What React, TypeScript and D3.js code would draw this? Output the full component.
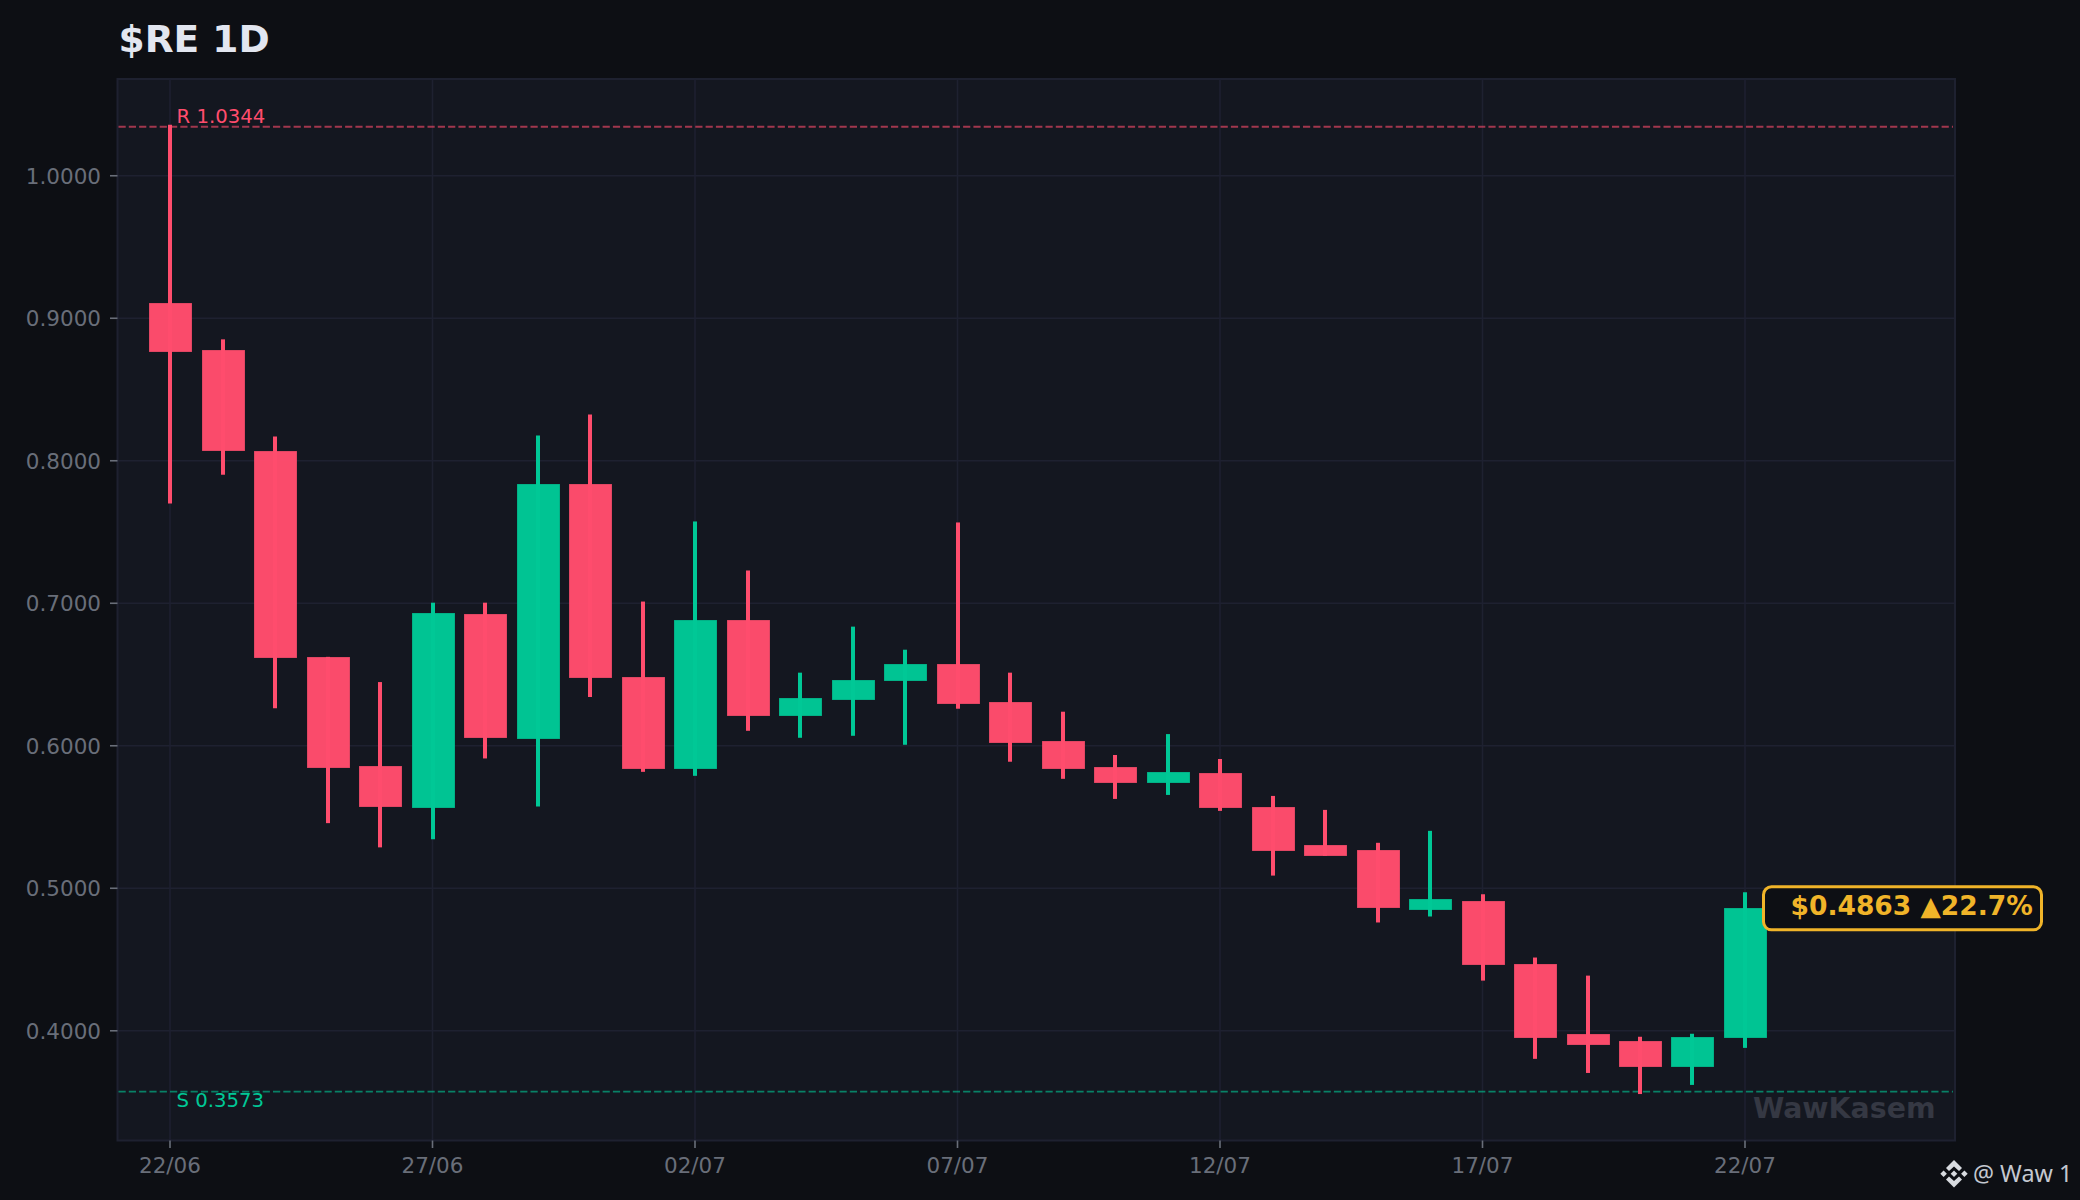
import React from "react";
import * as d3 from "d3";

// daily candles, 22/06 to 22/07
const opens = [0.9105, 0.8774, 0.8072, 0.6624, 0.5858, 0.5562, 0.6926, 0.6046, 0.784, 0.6485, 0.5838, 0.6885, 0.6211, 0.6323, 0.6457, 0.6576, 0.6309, 0.6035, 0.5851, 0.5739, 0.5809, 0.5571, 0.5305, 0.527, 0.4851, 0.4908, 0.4472, 0.3979, 0.393, 0.3746, 0.3951];
const closes = [0.8763, 0.8066, 0.6616, 0.5844, 0.557, 0.6934, 0.6054, 0.784, 0.6476, 0.5838, 0.6885, 0.6211, 0.6337, 0.6464, 0.6576, 0.6295, 0.6021, 0.5838, 0.5739, 0.5816, 0.5564, 0.5263, 0.5228, 0.4865, 0.4928, 0.4465, 0.3951, 0.3901, 0.3746, 0.3958, 0.4863];
const highs = [1.0344, 0.8838, 0.8157, 0.661, 0.6433, 0.699, 0.699, 0.8163, 0.8311, 0.6998, 0.756, 0.7216, 0.6499, 0.6822, 0.666, 0.7553, 0.6499, 0.6225, 0.5921, 0.6068, 0.5893, 0.5634, 0.5536, 0.5305, 0.5389, 0.4944, 0.45, 0.4373, 0.3944, 0.3965, 0.4958];
const lows = [0.7714, 0.7916, 0.6278, 0.5471, 0.5301, 0.5358, 0.5925, 0.5587, 0.6356, 0.5831, 0.5803, 0.6119, 0.607, 0.6084, 0.6021, 0.6274, 0.5902, 0.5782, 0.5641, 0.5669, 0.5557, 0.5103, 0.5242, 0.4774, 0.4816, 0.4366, 0.3817, 0.3718, 0.357, 0.3634, 0.3894];

const xTickIndex = [0, 5, 10, 15, 20, 25, 30];
const xTickLabels = ["22/06", "27/06", "02/07", "07/07", "12/07", "17/07", "22/07"];
const yTicks = [0.4, 0.5, 0.6, 0.7, 0.8, 0.9, 1.0];
const resistance = 1.0344;
const support = 0.3573;
const lastPrice = 0.4863;

const UP = "#00c896";
const DOWN = "#ff4d6d";
const GRID = "#1e2130";
const TICK = "#696e79";
const GOLD = "#f0b429";
const BG = "#0d0f14";
const PANEL = "#141720";
const FONT = "'DejaVu Sans', sans-serif";

const W = 2080;
const H = 1200;
const plot = { left: 117.5, right: 1955, top: 79, bottom: 1140.5 };

const x = d3.scaleLinear().domain([-1, 34]).range([plot.left, plot.right]);
const y = d3.scaleLinear().domain([0.323, 1.0679]).range([plot.bottom, plot.top]);

const candles = opens.map((open, i) => ({
  i,
  open,
  close: closes[i],
  high: highs[i],
  low: lows[i],
  color: closes[i] >= open ? UP : DOWN,
}));

const App = () => {
  return (
    <svg
      width={W}
      height={H}
      viewBox={`0 0 ${W} ${H}`}
      style={{ position: "absolute", left: 0, top: 0, display: "block" }}
      fontFamily={FONT}
    >
      <rect width={W} height={H} fill={BG} />
      <text x={118.5} y={52} fontSize={37.6} fontWeight="bold" fill="#e2e6f0">
        $RE 1D
      </text>

      {/* panel */}
      <rect
        x={plot.left}
        y={plot.top}
        width={plot.right - plot.left}
        height={plot.bottom - plot.top}
        fill={PANEL}
        stroke={GRID}
        strokeWidth={2}
      />

      {/* grid and ticks */}
      {yTicks.map((t) => (
        <g key={t}>
          <line x1={plot.left} x2={plot.right} y1={y(t)} y2={y(t)} stroke={GRID} strokeWidth={1.5} />
          <line x1={plot.left - 7.5} x2={plot.left} y1={y(t)} y2={y(t)} stroke={TICK} strokeWidth={1.6} />
          <text x={101} y={y(t) + 8} fontSize={21.5} textAnchor="end" fill={TICK}>
            {t.toFixed(4)}
          </text>
        </g>
      ))}
      {xTickIndex.map((t, k) => (
        <g key={t}>
          <line x1={x(t)} x2={x(t)} y1={plot.top} y2={plot.bottom} stroke={GRID} strokeWidth={1.5} />
          <line x1={x(t)} x2={x(t)} y1={plot.bottom} y2={plot.bottom + 7.5} stroke={TICK} strokeWidth={1.6} />
          <text x={x(t)} y={1173} fontSize={21.5} textAnchor="middle" fill={TICK}>
            {xTickLabels[k]}
          </text>
        </g>
      ))}

      {/* support / resistance */}
      <line x1={plot.left + 1} x2={plot.right - 2} y1={y(resistance)} y2={y(resistance)} stroke={DOWN} strokeOpacity={0.6} strokeWidth={1.94} strokeDasharray="7.2 3.1" />
      <line x1={plot.left + 1} x2={plot.right - 2} y1={y(support)} y2={y(support)} stroke={UP} strokeOpacity={0.6} strokeWidth={1.94} strokeDasharray="7.2 3.1" />
      <text x={176.5} y={122.7} fontSize={19.7} fill={DOWN}>{`R ${resistance.toFixed(4)}`}</text>
      <text x={176.5} y={1106.7} fontSize={19.7} fill={UP}>{`S ${support.toFixed(4)}`}</text>

      {/* candles */}
      {candles.map((c) => {
        const cx = x(c.i);
        const top = Math.round(y(Math.max(c.open, c.close)));
        const bottom = Math.round(y(Math.min(c.open, c.close)));
        return (
          <g key={c.i}>
            <line x1={Math.round(cx)} x2={Math.round(cx)} y1={y(c.high)} y2={y(c.low)} stroke={c.color} strokeWidth={4} strokeLinecap="square" />
            <rect
              x={Math.round(cx - 21) + 0.5}
              y={top + 0.5}
              width={42}
              height={Math.max(bottom - top - 1, 1)}
              fill={c.color}
              fillOpacity={0.98}
              stroke={c.color}
              strokeOpacity={0.75}
              strokeWidth={1}
            />
          </g>
        );
      })}

      <text x={1935.5} y={1118} fontSize={28.4} fontWeight="bold" textAnchor="end" fill="#353843">
        WawKasem
      </text>

      {/* last price tag */}
      <rect x={1763.5} y={y(lastPrice) - 21} width={278} height={43} rx={8} fill={BG} stroke={GOLD} strokeWidth={3} />
      <text x={1790.5} y={y(lastPrice) + 7.5} fontSize={26.5} fontWeight="bold" fill={GOLD}>
        {`$${lastPrice.toFixed(4)} ▲22.7%`}
      </text>

      {/* footer badge */}
      <g transform="translate(1954 1173.7)" fill="#d8dbe0">
        <path d="M0 -13.7 L8 -5.7 L5 -2.7 L0 -7.2 L-5 -2.7 L-8 -5.7 Z" />
        <path d="M0 13.7 L8 5.7 L5 2.7 L0 7.2 L-5 2.7 L-8 5.7 Z" />
        <path d="M-13.7 0 L-10.4 -3.3 L-7.1 0 L-10.4 3.3 Z" />
        <path d="M13.7 0 L10.4 -3.3 L7.1 0 L10.4 3.3 Z" />
        <path d="M0 -3.3 L3.3 0 L0 3.3 L-3.3 0 Z" />
      </g>
      <text x={1973} y={1182} fontSize={23.4} fontFamily="'Noto Sans', sans-serif" fill="#c4c8d0">
        @ Waw 1
      </text>
    </svg>
  );
};

export default App;
